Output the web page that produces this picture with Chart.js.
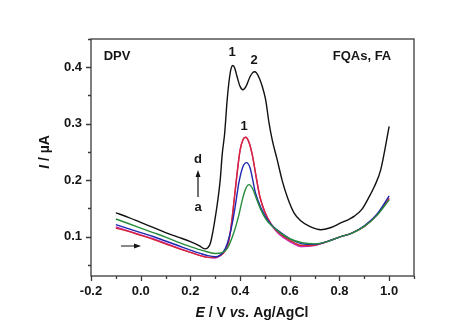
<!DOCTYPE html>
<html>
<head>
<meta charset="utf-8">
<script src="https://cdn.jsdelivr.net/npm/chart.js@4/dist/chart.umd.min.js"></script>
<style>
  html, body { margin: 0; padding: 0; background: #fff; }
  #wrap { width: 474px; height: 331px; }
</style>
</head>
<body>
<div id="wrap"><canvas id="dpv" width="474" height="331"></canvas></div>
<script>
// potentials (V vs. Ag/AgCl) and currents (uA) for each voltammogram
const blackE = [-0.1, -0.05, 0.0, 0.05, 0.1, 0.15, 0.2, 0.235, 0.258, 0.27, 0.281, 0.301, 0.32, 0.328, 0.338, 0.348, 0.357, 0.364, 0.371, 0.378, 0.388, 0.4, 0.411, 0.425, 0.44, 0.45, 0.458, 0.466, 0.478, 0.49, 0.503, 0.517, 0.53, 0.55, 0.569, 0.59, 0.617, 0.644, 0.68, 0.725, 0.76, 0.805, 0.84, 0.86, 0.89, 0.913, 0.94, 0.966, 1.0];
const blackI = [0.142, 0.134, 0.125, 0.116, 0.107, 0.099, 0.091, 0.084, 0.078, 0.080, 0.089, 0.136, 0.200, 0.245, 0.283, 0.342, 0.380, 0.398, 0.403, 0.399, 0.383, 0.366, 0.360, 0.367, 0.383, 0.390, 0.392, 0.390, 0.380, 0.365, 0.342, 0.300, 0.270, 0.235, 0.200, 0.170, 0.142, 0.128, 0.118, 0.112, 0.115, 0.124, 0.131, 0.136, 0.148, 0.165, 0.188, 0.218, 0.295];

const greenE = [-0.1, -0.05, 0.0, 0.05, 0.1, 0.15, 0.2, 0.25, 0.3, 0.33, 0.35, 0.375, 0.395, 0.409, 0.422, 0.436, 0.45, 0.465, 0.483, 0.505, 0.53, 0.563, 0.6, 0.65, 0.7, 0.75, 0.8, 0.85, 0.9, 0.95, 1.0];
const greenI = [0.131, 0.123, 0.115, 0.107, 0.099, 0.090, 0.082, 0.075, 0.070, 0.072, 0.080, 0.107, 0.138, 0.165, 0.184, 0.192, 0.185, 0.168, 0.148, 0.130, 0.118, 0.106, 0.096, 0.089, 0.087, 0.091, 0.099, 0.106, 0.118, 0.137, 0.165];

const blueE = [-0.1, -0.05, 0.0, 0.05, 0.1, 0.15, 0.2, 0.24, 0.27, 0.3, 0.32, 0.34, 0.355, 0.369, 0.382, 0.395, 0.41, 0.425, 0.44, 0.462, 0.485, 0.51, 0.535, 0.557, 0.6, 0.65, 0.7, 0.75, 0.8, 0.85, 0.9, 0.95, 1.0];
const blueI = [0.121, 0.114, 0.107, 0.100, 0.092, 0.084, 0.076, 0.070, 0.066, 0.064, 0.067, 0.078, 0.097, 0.124, 0.158, 0.195, 0.222, 0.231, 0.222, 0.177, 0.150, 0.130, 0.117, 0.109, 0.096, 0.087, 0.086, 0.091, 0.099, 0.106, 0.119, 0.139, 0.172];

const redE = [-0.1, -0.05, 0.0, 0.05, 0.1, 0.15, 0.2, 0.24, 0.27, 0.3, 0.32, 0.335, 0.349, 0.36, 0.369, 0.385, 0.4, 0.412, 0.422, 0.435, 0.449, 0.465, 0.48, 0.5, 0.525, 0.555, 0.6, 0.65, 0.7, 0.75, 0.8, 0.85, 0.9, 0.95, 1.0];
const redI = [0.115, 0.109, 0.102, 0.095, 0.087, 0.079, 0.072, 0.066, 0.063, 0.063, 0.066, 0.072, 0.083, 0.105, 0.136, 0.200, 0.253, 0.272, 0.276, 0.268, 0.245, 0.205, 0.170, 0.143, 0.122, 0.107, 0.093, 0.084, 0.085, 0.091, 0.099, 0.106, 0.118, 0.138, 0.168];

const magentaE = [-0.1, -0.05, 0.0, 0.05, 0.1, 0.15, 0.2, 0.24, 0.27, 0.3, 0.32, 0.335, 0.349, 0.36, 0.369, 0.385, 0.4, 0.412, 0.422, 0.435, 0.449, 0.465, 0.48, 0.5, 0.525, 0.555, 0.6, 0.65, 0.7, 0.75, 0.8, 0.85, 0.9, 0.95, 1.0];
const magentaI = [0.117, 0.110, 0.103, 0.096, 0.088, 0.080, 0.072, 0.066, 0.063, 0.062, 0.066, 0.072, 0.083, 0.105, 0.136, 0.200, 0.253, 0.272, 0.276, 0.268, 0.245, 0.205, 0.170, 0.143, 0.121, 0.105, 0.091, 0.082, 0.084, 0.091, 0.099, 0.106, 0.118, 0.138, 0.167];

const xTicks = [-0.2, 0.0, 0.2, 0.4, 0.6, 0.8, 1.0];
const yTicks = [0.1, 0.2, 0.3, 0.4];

function pts(xs, ys) {
  return xs.map((x, i) => ({x: x, y: ys[i]}));
}

function line(label, xs, ys, color) {
  return {
    label: label,
    data: pts(xs, ys),
    borderColor: color,
    borderWidth: 1.4,
    pointRadius: 0,
    fill: false,
    cubicInterpolationMode: 'monotone',
  };
}

const FONT = '"Liberation Sans", Arial, sans-serif';
const INK = '#151515';

// frame, tick marks, axis titles and the in-plot labels
const decorations = {
  id: 'decorations',
  afterDraw(chart) {
    const ctx = chart.ctx;
    const a = chart.chartArea;
    const sx = chart.scales.x;
    const sy = chart.scales.y;
    ctx.save();
    ctx.strokeStyle = '#3a3a3a';
    ctx.lineWidth = 1.3;
    ctx.strokeRect(a.left, a.top, a.right - a.left, a.bottom - a.top);

    ctx.beginPath();
    for (let v = -0.2; v <= 1.101; v += 0.1) {
      const px = Math.round(sx.getPixelForValue(v)) + 0.5;
      const major = Math.abs(Math.round(v * 10) % 2) === 0;
      ctx.moveTo(px, a.bottom);
      ctx.lineTo(px, a.bottom + (major ? 5 : 3));
    }
    for (let v = 0.05; v <= 0.451; v += 0.05) {
      const py = Math.round(sy.getPixelForValue(v)) + 0.5;
      const major = Math.abs(Math.round(v * 20) % 2) === 0;
      ctx.moveTo(a.left, py);
      ctx.lineTo(a.left - (major ? 5 : 3), py);
    }
    ctx.stroke();

    ctx.fillStyle = INK;
    ctx.textBaseline = 'middle';

    // x title with italic symbol and "vs."
    const parts = [
      ['italic bold 14px ' + FONT, 'E'],
      ['bold 14px ' + FONT, ' / V '],
      ['italic bold 14px ' + FONT, 'vs.'],
      ['bold 14px ' + FONT, ' Ag/AgCl'],
    ];
    let total = 0;
    parts.forEach(p => { ctx.font = p[0]; total += ctx.measureText(p[1]).width; });
    let x = 252 - total / 2;
    ctx.textAlign = 'left';
    parts.forEach(p => {
      ctx.font = p[0];
      ctx.fillText(p[1], x, 313);
      x += ctx.measureText(p[1]).width;
    });

    // y title
    ctx.save();
    ctx.translate(45, 152);
    ctx.rotate(-Math.PI / 2);
    const yParts = [
      ['italic bold 14px ' + FONT, 'I'],
      ['bold 14px ' + FONT, ' / \u00b5A'],
    ];
    total = 0;
    yParts.forEach(p => { ctx.font = p[0]; total += ctx.measureText(p[1]).width; });
    x = -total / 2;
    yParts.forEach(p => {
      ctx.font = p[0];
      ctx.fillText(p[1], x, 0);
      x += ctx.measureText(p[1]).width;
    });
    ctx.restore();

    ctx.font = 'bold 13px ' + FONT;
    ctx.textAlign = 'center';
    ctx.fillText('DPV', 117, 56);
    ctx.fillText('FQAs, FA', 362, 56);
    ctx.fillText('1', 232, 52);
    ctx.fillText('2', 254, 60);
    ctx.fillText('1', 244, 126);
    ctx.fillText('d', 198, 159);
    ctx.fillText('a', 198, 207);

    // arrows
    ctx.lineWidth = 1.2;
    ctx.strokeStyle = INK;
    ctx.beginPath();
    ctx.moveTo(198, 197);
    ctx.lineTo(198, 175);
    ctx.moveTo(121, 246);
    ctx.lineTo(136, 246);
    ctx.stroke();
    ctx.beginPath();
    ctx.moveTo(198, 170);
    ctx.lineTo(195.5, 177);
    ctx.lineTo(200.5, 177);
    ctx.closePath();
    ctx.moveTo(141, 246);
    ctx.lineTo(134, 243.5);
    ctx.lineTo(134, 248.5);
    ctx.closePath();
    ctx.fill();
    ctx.restore();
  }
};

new Chart(document.getElementById('dpv'), {
  type: 'line',
  data: {
    datasets: [
      line('FQAs + FA', blackE, blackI, '#111111'),
      line('a', greenE, greenI, 'rgb(40,140,60)'),
      line('b', blueE, blueI, 'rgb(30,40,175)'),
      line('c', redE, redI, 'rgb(215,40,50)'),
      line('d', magentaE, magentaI, 'rgb(200,40,190)'),
    ],
  },
  options: {
    responsive: false,
    animation: false,
    layout: { padding: { top: 39, right: 60, left: 0, bottom: 0 } },
    plugins: { legend: { display: false }, tooltip: { enabled: false } },
    scales: {
      x: {
        type: 'linear',
        min: -0.2,
        max: 1.1,
        afterFit(scale) { scale.height = 55; },
        afterBuildTicks(scale) { scale.ticks = xTicks.map(v => ({value: v})); },
        grid: { display: false, drawTicks: false },
        border: { display: false },
        ticks: {
          padding: 8,
          color: INK,
          font: { family: FONT, size: 13, weight: 'bold' },
          callback: v => v.toFixed(1),
        },
      },
      y: {
        min: 0.03,
        max: 0.45,
        afterFit(scale) { scale.width = 91; },
        afterBuildTicks(scale) { scale.ticks = yTicks.map(v => ({value: v})); },
        grid: { display: false, drawTicks: false },
        border: { display: false },
        ticks: {
          padding: 9,
          color: INK,
          font: { family: FONT, size: 13, weight: 'bold' },
          callback: v => v.toFixed(1),
        },
      },
    },
  },
  plugins: [decorations],
});
</script>
</body>
</html>
